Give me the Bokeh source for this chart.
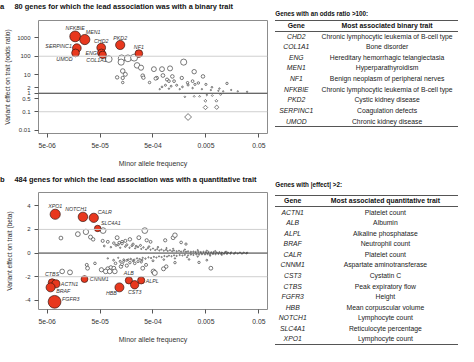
import math
from bokeh.plotting import figure
from bokeh.models import ColumnDataSource, Range1d, FixedTicker, Span, Div
from bokeh.layouts import row, column
from bokeh.embed import file_html
from bokeh.resources import INLINE
from bokeh.core.properties import value, field

FONT = "Liberation Sans"
RED = "#E8381E"
SX, SY = 0.966, 0.956   # reference-pixel -> page-pixel scale

# ---------------- axis ticks ----------------
x_ticks = [5e-6, 5e-5, 5e-4, 5e-3, 5e-2]
x_tick_labels = ["5e-06", "5e-05", "5e-04", "0.005", "0.05"]
a_y_ticks = [0.01, 0.1, 0.5, 1, 2, 10, 100, 1000]
a_y_tick_labels = ["0.01", "0.1", "0.5", "1", "2", "10", "100", "1000"]
b_y_ticks = [-4, -2, 0, 2, 4]
b_y_tick_labels = ["-4", "-2", "0", "2", "4"]
a_ref_light = [100, 0.1]
a_ref_dark = [1]
b_ref_light = [2, -2]
b_ref_dark = [0]

# ---------------- panel a data ----------------
a_red_genes = ["NFKBIE", "MEN1", "SERPINC1", "UMOD", "CHD2", "ENG", "COL1A1", "PKD2", "NF1"]
a_red_maf = [1.69e-5, 2.57e-5, 1.82e-5, 1.72e-5, 5.25e-5, 5.3e-5, 5.6e-5, 1.2e-4, 2.7e-4]
a_red_or = [1180, 795, 274, 151, 290, 151, 119, 405, 139]
a_lab_align = ["center", "left", "right", "right", "center", "right", "right", "center", "center"]
a_lab_dx = [0, 1, -5, -3, 0, -4.5, 4, 0, 0]
a_lab_dy = [-8.5, -7.5, -2.5, 6.5, -6.5, 0.5, 5.2, -7.2, -6.2]

a_maf = [7.3e-5, 1.28e-4, 1.25e-4, 1.68e-4, 2.2e-4, 2.5e-4, 2.97e-4, 1.34e-4, 1.5e-4, 1.05e-4,
         1.34e-4, 1.34e-4, 3.2e-4, 3.3e-4, 4.3e-4, 5.2e-4, 7.4e-4, 1.05e-3, 1.9e-3, 3.0e-3,
         4.4e-3, 7.7e-4, 5.9e-4, 5.6e-4, 1.16e-3, 9.2e-4, 1.0e-3, 1.25e-3, 1.75e-3, 2.25e-3,
         2.8e-3, 3.6e-3, 7.4e-4, 8.6e-4, 1.1e-3, 1.4e-3, 1.8e-3, 2.3e-3, 3.1e-3, 5.0e-3,
         0.0125, 8.6e-3, 0.0106, 0.020, 6.2e-3, 4.2e-3, 2.8e-3, 1.6e-3, 1.0e-3, 6.7e-4,
         6.5e-3, 9.0e-3, 0.015, 0.03, 5.2e-3, 6.6e-3, 9.5e-3,
         3.0e-3, 3.8e-3, 4.9e-3, 7.9e-3, 4.9e-3, 8.0e-3, 2.3e-3, 2.0e-3]
a_or = [70, 77, 48, 77, 84, 32, 24, 15.9, 10.5, 7.2,
        6.7, 3.8, 8.8, 6.9, 3.8, 20, 20, 22, 48, 14.6,
        8.1, 9.1, 6.7, 6.2, 8.1, 5.5, 4.5, 4.5, 6.7, 3.7,
        4.5, 3.6, 2.2, 2.7, 2.4, 2.7, 2.2, 2.8, 3.0, 3.0,
        3.4, 1.36, 1.27, 1.27, 1.48, 1.66, 1.9, 1.66, 1.77, 1.66,
        2.1, 1.8, 1.5, 1.2, 0.8, 0.75, 0.85,
        0.68, 0.68, 0.39, 0.39, 0.17, 0.175, 0.052, 0.64]

# ---------------- panel b data ----------------
b_red_genes = ["XPO1", "NOTCH1", "CALR", "SLC4A1", "CTBS", "ACTN1", "BRAF", "FGFR3", "CNNM1",
               "HBB", "ALB", "CST3", "ALPL"]
b_red_maf = [7.1e-6, 2.37e-5, 3.8e-5, 4.5e-5, 6.2e-6, 7.3e-6, 5.8e-6, 6.9e-6, 2.54e-5,
             1.16e-4, 1.75e-4, 2.25e-4, 2.99e-4]
b_red_beta = [3.28, 3.06, 2.98, 2.08, -2.5, -2.6, -2.9, -4.12, -2.2, -2.9, -2.31, -2.68, -2.31]
b_lab_align = ["center", "right", "left", "left", "center", "left", "left", "left", "left",
               "right", "center", "center", "left"]
b_lab_dx = [0, 4, 4, 3.3, 0, 5, 5.6, 7.5, 5.3, -2.6, 0, 0, 4.5]
b_lab_dy = [-8, -8.2, -6, -5.4, -8.5, 0, 3.3, -3.3, 0, 6, -7, 7.5, 1]

b_maf = [
    9.1e-6, 1.9e-5, 2.7e-5, 3.3e-5, 3.7e-5, 5.7e-5, 7.0e-5, 9.1e-5, 1.05e-4, 1.3e-4,
    1.5e-4, 1.83e-4, 2.7e-4, 3.5e-4, 3.8e-4, 4.5e-4, 8.5e-4, 1.2e-3, 1.3e-3, 1.7e-3,
    2.1e-3, 5.6e-5, 1.15e-4,
    9.6e-6, 1.35e-5, 2.8e-5, 2.9e-5, 4.0e-5, 5.3e-5, 7.0e-5, 8.0e-5, 9.1e-5, 6.4e-5,
    7.6e-5, 9.5e-5, 9.8e-5, 1.24e-4, 1.3e-4, 1.6e-4, 1.83e-4, 2.26e-4, 3.2e-4, 3.7e-4,
    5.1e-4, 5.4e-4, 7.9e-4, 8.9e-4, 1.3e-3, 2.4e-3, 3.7e-3, 5.2e-3, 6.2e-3,
    6e-5, 8e-5, 1.0e-4, 1.2e-4, 1.6e-4, 2.4e-4,
    1.1e-4, 1.3e-4, 2.1e-4, 2.9e-4, 4.2e-4, 6.2e-4, 9e-4, 1.2e-3, 2.0e-3, 3.5e-3, 5.2e-3, 7.5e-3, 0.012,
    1.5e-4, 1.8e-4, 2.0e-4, 2.3e-4, 2.6e-4, 3.0e-4, 3.3e-4, 3.7e-4, 4.0e-4, 4.5e-4,
    5.0e-4, 5.5e-4, 6.0e-4, 6.6e-4, 7.2e-4, 8.0e-4, 8.8e-4, 9.5e-4, 1.05e-3, 1.15e-3,
    1.25e-3, 1.4e-3, 1.55e-3, 1.7e-3, 1.9e-3, 2.1e-3, 2.3e-3, 2.6e-3, 2.9e-3, 3.2e-3,
    3.6e-3, 4.0e-3, 4.5e-3, 5.0e-3, 5.6e-3, 6.3e-3, 7.0e-3, 8.0e-3, 9.0e-3, 1.0e-2,
    1.15e-2, 1.3e-2, 1.5e-2, 1.8e-2, 2.2e-2, 2.6e-2, 3.0e-2,
    7e-5, 9e-5, 1.1e-4, 1.4e-4, 1.7e-4, 2.1e-4, 2.6e-4, 3.1e-4,
    3.0e-4, 5e-4, 8e-4, 1.3e-3, 2.2e-3, 3.5e-3, 6e-3, 0.01,
    1.2e-4, 1.4e-4, 1.6e-4, 1.9e-4, 2.2e-4, 2.5e-4, 2.8e-4, 3.2e-4, 3.6e-4, 4.1e-4,
    4.6e-4, 5.2e-4, 5.8e-4, 6.5e-4, 7.3e-4, 8.2e-4, 9.2e-4, 1.0e-3, 1.12e-3, 1.25e-3,
    1.4e-3, 1.6e-3, 1.8e-3, 2.0e-3, 2.3e-3, 2.6e-3, 2.9e-3, 3.3e-3, 3.7e-3, 4.2e-3,
    4.8e-3, 5.4e-3, 6.0e-3, 6.8e-3, 7.6e-3, 8.6e-3, 9.7e-3, 1.1e-2, 1.25e-2, 1.45e-2,
    1.7e-2, 2.0e-2, 2.4e-2, 2.9e-2]
b_beta = [
    1.27, 1.6, 1.79, 1.35, 1.16, 1.9, 0.95, 0.84, 1.3, 0.95,
    1.03, 1.16, 1.3, 1.9, 1.08, 0.95, 1.08, 1.3, 1.51, 0.9,
    0.76, 1.03, 0.88,
    -1.55, -1.63, -1.0, -1.28, -0.87, -1.41, -1.33, -1.22, -1.28, -1.55,
    -1.55, -1.55, -0.87, -1.14, -0.95, -1.06, -0.81, -0.87, -1.28, -1.0,
    -1.55, -1.68, -1.33, -1.14, -0.81, -0.54, -0.79, -0.6, -1.28,
    0.6, 0.5, 0.65, 0.45, 0.7, 0.58,
    0.7, 0.8, 0.75, 0.65, 0.55, 0.5, 0.42, 0.36, 0.3, 0.25, 0.2, 0.17, 0.12,
    0.55, 0.45, 0.62, 0.40, 0.52, 0.35, 0.48, 0.30, 0.42, 0.28,
    0.38, 0.25, 0.33, 0.22, 0.30, 0.20, 0.27, 0.18, 0.24, 0.16,
    0.21, 0.15, 0.19, 0.13, 0.17, 0.12, 0.15, 0.11, 0.13, 0.10,
    0.12, 0.09, 0.11, 0.08, 0.10, 0.07, 0.09, 0.06, 0.08, 0.05,
    0.07, 0.05, 0.06, 0.04, 0.05, 0.04, 0.03,
    -0.45, -0.6, -0.4, -0.7, -0.55, -0.65, -0.72, -0.6,
    -0.75, -0.65, -0.55, -0.45, -0.35, -0.3, -0.22, -0.15,
    -0.7, -0.55, -0.62, -0.5, -0.58, -0.45, -0.52, -0.4, -0.47, -0.36,
    -0.42, -0.32, -0.38, -0.28, -0.34, -0.25, -0.3, -0.22, -0.27, -0.19,
    -0.24, -0.17, -0.21, -0.15, -0.19, -0.13, -0.16, -0.12, -0.14, -0.1,
    -0.12, -0.09, -0.11, -0.08, -0.1, -0.07, -0.08, -0.06, -0.07, -0.05,
    -0.06, -0.04, -0.05, -0.03]

# ---------------- titles and tables ----------------
a_letter, a_title = "a", "80 genes for which the lead association was with a binary trait"
b_letter, b_title = "b", "484 genes for which the lead association was with a quantitative trait"
a_tab_title = "Genes with an odds ratio >100:"
a_tab_header = ["Gene", "Most associated binary trait"]
a_tab_genes = ["CHD2", "COL1A1", "ENG", "MEN1", "NF1", "NFKBIE", "PKD2", "SERPINC1", "UMOD"]
a_tab_traits = ["Chronic lymphocytic leukemia of B-cell type", "Bone disorder",
                "Hereditary hemorrhagic telangiectasia", "Hyperparathyroidism",
                "Benign neoplasm of peripheral nerves",
                "Chronic lymphocytic leukemia of B-cell type", "Cystic kidney disease",
                "Coagulation defects", "Chronic kidney disease"]
b_tab_title = "Genes with |effect| >2:"
b_tab_header = ["Gene", "Most associated quantitative trait"]
b_tab_genes = ["ACTN1", "ALB", "ALPL", "BRAF", "CALR", "CNNM1", "CST3", "CTBS", "FGFR3",
               "HBB", "NOTCH1", "SLC4A1", "XPO1"]
b_tab_traits = ["Platelet count", "Albumin", "Alkaline phosphatase", "Neutrophil count",
                "Platelet count", "Aspartate aminotransferase", "Cystatin C",
                "Peak expiratory flow", "Height", "Mean corpuscular volume",
                "Lymphocyte count", "Reticulocyte percentage", "Lymphocyte count"]


def scatter_fig(y_type, y_rng, yticks, ylabels, ylab, height, top, bottom, ylab_standoff):
    p = figure(width=273, height=height, x_axis_type="log", y_axis_type=y_type,
               x_range=Range1d(3.43e-6, 0.0729), y_range=Range1d(*y_rng),
               toolbar_location=None, output_backend="svg",
               min_border_left=38, min_border_right=6,
               min_border_top=top, min_border_bottom=bottom)
    p.grid.visible = False
    p.outline_line_color = "#8c8c8c"
    p.outline_line_width = 1
    p.xaxis.ticker = FixedTicker(ticks=x_ticks, minor_ticks=[])
    p.xaxis.major_label_overrides = dict(zip(x_ticks, x_tick_labels))
    p.yaxis.ticker = FixedTicker(ticks=yticks, minor_ticks=[])
    p.yaxis.major_label_overrides = dict(zip(yticks, ylabels))
    for ax in (p.xaxis[0], p.yaxis[0]):
        ax.axis_line_color = None
        ax.major_tick_in = 0
        ax.major_tick_out = 4
        ax.major_tick_line_color = "#555555"
        ax.minor_tick_line_color = None
        ax.major_label_text_font = FONT
        ax.major_label_text_color = "#333333"
        ax.axis_label_text_font = FONT
        ax.axis_label_text_font_style = "normal"
        ax.axis_label_text_color = "#333333"
    p.xaxis.major_label_text_font_size = "6.8px"
    p.xaxis.major_label_standoff = 5
    p.xaxis.axis_label = "Minor allele frequency"
    p.xaxis.axis_label_text_font_size = "7px"
    p.xaxis.axis_label_standoff = 9
    p.yaxis.major_label_text_font_size = "6px"
    p.yaxis.major_label_standoff = 4
    p.yaxis.major_label_orientation = "horizontal"
    p.yaxis.axis_label = ylab
    p.yaxis.axis_label_text_font_size = "6.6px"
    p.yaxis.axis_label_standoff = ylab_standoff
    return p


def add_points(p, maf, vals, red_maf, red_vals, genes, align, dx, dy, is_log):
    def mag(v):
        return abs(math.log10(v)) if is_log else abs(v)

    if is_log:
        markers = ["circle" if v >= 1 else "square" for v in vals]
        angles = [0 if v >= 1 else math.pi / 4 for v in vals]
        sizes = [max(1.3, 2 * (0.3 + 1.65 * mag(v))) for v in vals]
        rsizes = [2 * (0.3 + 1.65 * mag(v)) for v in red_vals]
    else:
        markers = ["circle"] * len(vals)
        angles = [0] * len(vals)
        sizes = [max(1.2, 2 * 1.5 * mag(v)) for v in vals]
        rsizes = [2 * 1.55 * mag(v) for v in red_vals]
    src = ColumnDataSource(dict(x=maf, y=vals, s=sizes, m=markers, a=angles))
    p.scatter("x", "y", size="s", marker="m", angle="a", source=src,
              fill_color="white", line_color="#404040", line_width=0.7)
    rsrc = ColumnDataSource(dict(x=red_maf, y=red_vals, s=rsizes, g=genes,
                                 al=align, dx=dx, dy=dy))
    p.scatter("x", "y", size="s", source=rsrc, fill_color=RED,
              line_color="#3a1510", line_width=0.7)
    p.text("x", "y", text="g", source=rsrc, text_align=field("al"),
           text_baseline="middle", x_offset="dx", y_offset="dy",
           text_font=value(FONT), text_font_style="italic",
           text_font_size="5.3px", text_color="#333333")


def add_spans(p, light, dark):
    for v in light:
        p.add_layout(Span(location=v, dimension="width", line_color="#cfcfcf", line_width=1))
    for v in dark:
        p.add_layout(Span(location=v, dimension="width", line_color="#333333", line_width=1))


def span_html(text, left, top, size, weight="normal", style="normal", anchor="left", color="#111"):
    tx = "-50%" if anchor == "center" else "0"
    return ('<span style="position:absolute;left:%.1fpx;top:%.1fpx;transform:translate(%s,-50%%);'
            'white-space:nowrap;line-height:1;font-family:\'%s\';font-size:%spx;font-weight:%s;'
            'font-style:%s;color:%s;">%s</span>'
            % (left, top, tx, FONT, size, weight, style, color, text))


def rule_html(left, right, top, width):
    return ('<div style="position:absolute;left:%.1fpx;width:%.1fpx;top:%.1fpx;height:0;'
            'border-top:%.1fpx solid #555;"></div>' % (left, right - left, top - width / 2, width))


def title_div(letter, text, w, h, cy):
    html = ('<div style="position:relative;width:%dpx;height:%dpx;overflow:visible;">' % (w, h)
            + span_html(letter, 0, cy, 7.6, weight="bold")
            + span_html(text, 14.5, cy, 7.4, weight="bold")
            + '</div>')
    return Div(text=html, width=w, height=h, margin=0, styles={"overflow": "visible"})


def table_div(ref_y0, title, header, genes, traits, gene_x, trait_x,
              title_y, top_rule, header_y, header_rule, row0, step, bottom_rule):
    x0 = 273.0

    def X(rx):
        return rx * SX - x0

    def Y(ry):
        return (ry - ref_y0) * SY

    parts = ['<div style="position:relative;width:185px;height:173px;overflow:visible;">']
    parts.append(span_html(title, X(285), Y(title_y), 6.3, weight="bold"))
    parts.append(rule_html(X(285), X(474), Y(top_rule), 1.3))
    parts.append(span_html(header[0], X(gene_x), Y(header_y), 6.9, weight="bold", anchor="center"))
    parts.append(span_html(header[1], X(trait_x), Y(header_y), 6.9, weight="bold", anchor="center"))
    parts.append(rule_html(X(285), X(474), Y(header_rule), 0.8))
    for i, (g, t) in enumerate(zip(genes, traits)):
        yy = Y(row0 + step * i)
        parts.append(span_html(g, X(gene_x), yy, 6.8, style="italic", anchor="center", color="#222"))
        parts.append(span_html(t, X(trait_x), yy, 6.8, anchor="center", color="#222"))
    parts.append(rule_html(X(285), X(474), Y(bottom_rule), 1.3))
    parts.append('</div>')
    return Div(text="".join(parts), width=185, height=173, margin=0,
               styles={"overflow": "visible"})


# panel a: title strip 10 px, figure 163 px (frame at 20..133 of the 173 px band)
ta_title = title_div(a_letter, a_title, 273, 10, 4.8)
pa = scatter_fig("log", (0.00668, 8511), a_y_ticks, a_y_tick_labels,
                 "Variant effect on trait (odds ratio)", 163, 10, 40, 3)
add_spans(pa, a_ref_light, a_ref_dark)
add_points(pa, a_maf, a_or, a_red_maf, a_red_or, a_red_genes, a_lab_align, a_lab_dx, a_lab_dy, True)

# panel b: title strip 12 px, figure 161 px
tb_title = title_div(b_letter, b_title, 273, 12, 7.0)
pb = scatter_fig("linear", (-4.77, 5.12), b_y_ticks, b_y_tick_labels,
                 "Variant effect on trait (beta)", 161, 7, 37, 9)
add_spans(pb, b_ref_light, b_ref_dark)
add_points(pb, b_maf, b_beta, b_red_maf, b_red_beta, b_red_genes, b_lab_align, b_lab_dx, b_lab_dy, False)

ta = table_div(0, a_tab_title, a_tab_header, a_tab_genes, a_tab_traits, 306.7, 400.7,
               15, 21.3, 27.3, 32.3, 38.3, 11.1, 132.3)
tb = table_div(181, b_tab_title, b_tab_header, b_tab_genes, b_tab_traits, 303, 399,
               193.3, 205, 210.7, 216, 222.7, 11.0, 360)

layout = row(column(ta_title, pa, tb_title, pb), column(ta, tb))
open("out.html", "w").write(file_html(layout, INLINE))
